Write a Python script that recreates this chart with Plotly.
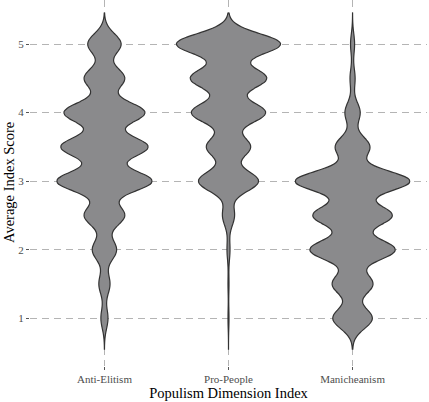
import numpy as np
import plotly.graph_objects as go

levels = [1.0, 1.5, 2.0, 2.5, 3.0, 3.5, 4.0, 4.5, 5.0]
categories = ["Anti-Elitism", "Pro-People", "Manicheanism"]
anti_elitism_counts = [7, 11, 24, 40, 94, 86, 80, 40, 33]
pro_people_counts = [1, 1, 3, 12, 60, 44, 74, 76, 104]
manicheanism_counts = [39, 40, 84, 78, 113, 34, 15, 5, 4]
y_ticks = [1, 2, 3, 4, 5]

FONT = "Liberation Serif"
FILL = "#8a8a8c"
EDGE = "#333333"
GRID = "#b4b4b4"

series = [anti_elitism_counts, pro_people_counts, manicheanism_counts]
widths = [0.76, 0.84, 0.915]  # max width of each violin (category units)

fig = go.Figure()
for name, counts, w in zip(categories, series, widths):
    scores = np.repeat(levels, counts)
    fig.add_trace(go.Violin(
        x=[name] * len(scores),
        y=scores,
        name=name,
        bandwidth=0.15,
        spanmode="manual",
        span=[0.55, 5.45],
        scalemode="width",
        width=w,
        points=False,
        box_visible=False,
        meanline_visible=False,
        fillcolor=FILL,
        opacity=1,
        line=dict(color=EDGE, width=1.2),
        hoverinfo="skip",
    ))

fig.update_layout(
    width=429, height=402,
    margin=dict(l=30, r=2, t=0, b=36),
    plot_bgcolor="white",
    paper_bgcolor="white",
    showlegend=False,
    violinmode="overlay",
    font=dict(family=FONT, color="black"),
)
fig.update_xaxes(
    type="category",
    categoryorder="array", categoryarray=categories,
    range=[-0.6, 2.6],
    automargin=False,
    showgrid=True, gridcolor=GRID, griddash="7px,5px", gridwidth=1,
    showline=False, zeroline=False,
    ticks="outside", ticklen=3, tickcolor="#555555",
    tickfont=dict(family=FONT, size=11, color="#4d4d4d"),
    title=dict(text="Populism Dimension Index", font=dict(family=FONT, size=14.5, color="black"),
               standoff=0),
)
fig.update_yaxes(
    range=[0.305, 5.642],
    tickvals=y_ticks,
    automargin=False,
    showgrid=True, gridcolor=GRID, griddash="7px,5px", gridwidth=1,
    showline=False, zeroline=False,
    ticks="outside", ticklen=3, tickcolor="#555555",
    tickfont=dict(family=FONT, size=11, color="#4d4d4d"),
)
# y title as a rotated annotation so it can sit close to the left edge
fig.add_annotation(
    text="Average Index Score", textangle=-90,
    xref="paper", yref="paper", x=0, y=0.5,
    xanchor="center", yanchor="middle", xshift=-21,
    showarrow=False,
    font=dict(family=FONT, size=14.5, color="black"),
)

# drop the default 8px body margin so the figure fills the window
fig.write_html("out.html", config={"displayModeBar": False},
               post_script="document.body.style.margin='0';")
